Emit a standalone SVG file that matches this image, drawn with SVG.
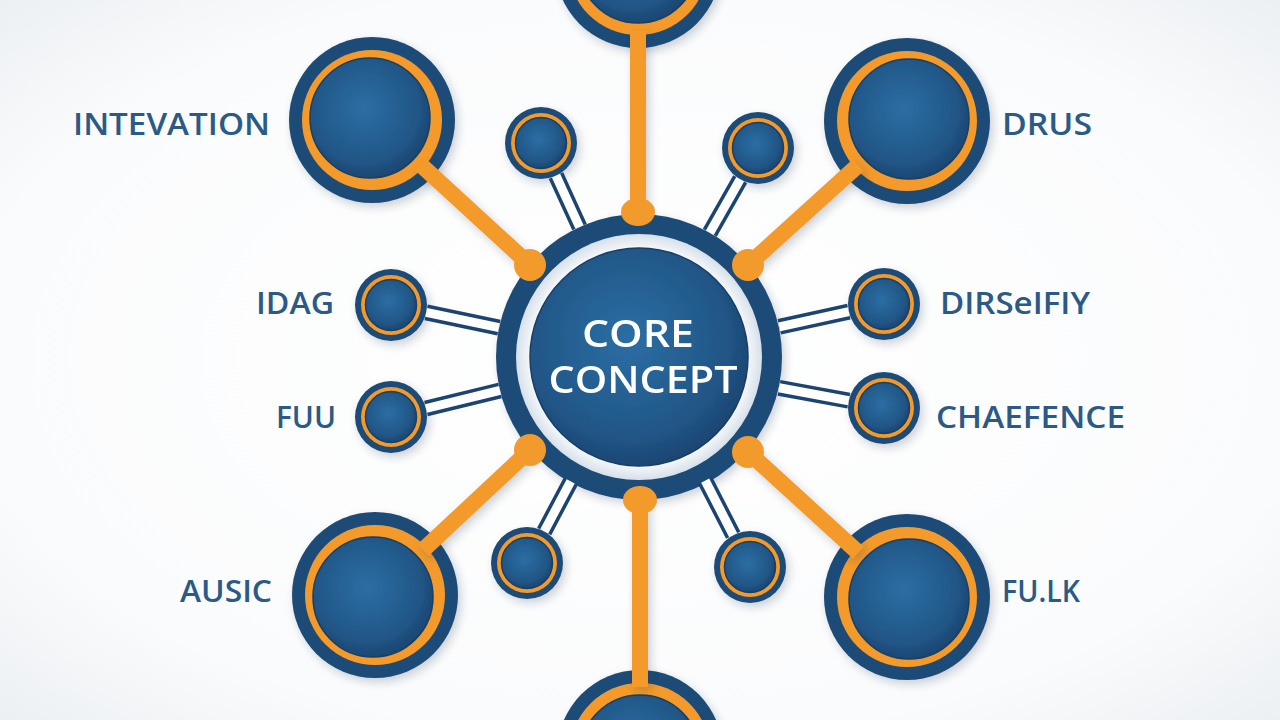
<svg xmlns="http://www.w3.org/2000/svg" width="1280" height="720" viewBox="0 0 1280 720">
<defs>
<radialGradient id="bg" cx="50%" cy="50%" r="75%">
<stop offset="0" stop-color="#ffffff"/><stop offset="0.7" stop-color="#fafbfc"/><stop offset="1" stop-color="#e9edf1"/>
</radialGradient>
<radialGradient id="blue" cx="45%" cy="42%" r="60%">
<stop offset="0" stop-color="#2b6ea4"/><stop offset="0.75" stop-color="#215686"/><stop offset="1" stop-color="#194470"/>
</radialGradient>
<radialGradient id="white" cx="50%" cy="50%" r="50%">
<stop offset="0.85" stop-color="#ffffff"/><stop offset="1" stop-color="#d6e0ea"/>
</radialGradient>
<filter id="sh" x="-30%" y="-30%" width="160%" height="160%">
<feDropShadow dx="3" dy="4" stdDeviation="4" flood-color="#1a3550" flood-opacity="0.22"/>
</filter>
<style>
.dark{fill:#1c4b77}
.org{fill:#f39a2c}
.inner{fill:url(#blue);stroke:#173f66;stroke-width:1.5}
.ol{stroke:#f39a2c;stroke-width:16;fill:none}
.dl{stroke:#1b4470;stroke-width:16;fill:none}
.wl{stroke:#ffffff;stroke-width:9;fill:none}
.lbl{font-family:"Open Sans","Liberation Sans",Arial,sans-serif;font-weight:600;font-size:30px;fill:#2a5a85}
.core{font-family:"Open Sans","Liberation Sans",Arial,sans-serif;font-weight:600;font-size:37px;fill:#ffffff}
</style>
</defs>
<rect width="1280" height="720" fill="url(#bg)"/>

<g id="core" filter="url(#sh)">
<circle cx="639" cy="357" r="143" class="dark"/>
<circle cx="639" cy="357" r="123" fill="url(#white)"/>
<circle cx="639" cy="357" r="109" class="inner"/>
<text x="638" y="347" text-anchor="middle" class="core" textLength="112" lengthAdjust="spacingAndGlyphs">CORE</text>
<text x="643" y="393" text-anchor="middle" class="core" textLength="189" lengthAdjust="spacingAndGlyphs">CONCEPT</text>
</g>

<g id="node-top" filter="url(#sh)">
<circle cx="638" cy="-35" r="83" class="dark"/>
<circle cx="638" cy="-35" r="70" class="org"/>
<circle cx="638" cy="-37" r="60" class="inner"/>
</g>
<g id="node-intevation">
<g filter="url(#sh)">
<circle cx="372" cy="120" r="83" class="dark"/>
<circle cx="372" cy="120" r="70" class="org"/>
<circle cx="370" cy="118" r="60" class="inner"/>
</g>
<text x="73" y="135" class="lbl" textLength="197" lengthAdjust="spacingAndGlyphs">INTEVATION</text>
</g>
<g id="node-drus">
<g filter="url(#sh)">
<circle cx="907" cy="121" r="83" class="dark"/>
<circle cx="907" cy="121" r="70" class="org"/>
<circle cx="909" cy="119" r="60" class="inner"/>
</g>
<text x="1002" y="135" class="lbl" textLength="90" lengthAdjust="spacingAndGlyphs">DRUS</text>
</g>
<g id="node-ausic">
<g filter="url(#sh)">
<circle cx="375" cy="595" r="83" class="dark"/>
<circle cx="375" cy="595" r="70" class="org"/>
<circle cx="373" cy="597" r="60" class="inner"/>
</g>
<text x="180" y="602" class="lbl" textLength="92" lengthAdjust="spacingAndGlyphs">AUSIC</text>
</g>
<g id="node-fulk">
<g filter="url(#sh)">
<circle cx="907" cy="597" r="83" class="dark"/>
<circle cx="907" cy="597" r="70" class="org"/>
<circle cx="909" cy="599" r="60" class="inner"/>
</g>
<text x="1002" y="602" class="lbl" textLength="78" lengthAdjust="spacingAndGlyphs">FU.LK</text>
</g>
<g id="node-bottom" filter="url(#sh)">
<circle cx="640" cy="753" r="83" class="dark"/>
<circle cx="640" cy="753" r="70" class="org"/>
<circle cx="640" cy="755" r="60" class="inner"/>
</g>

<g id="small-ul" filter="url(#sh)">
<circle cx="541" cy="143" r="36" class="dark"/><circle cx="541" cy="143" r="30" class="org"/><circle cx="541" cy="143" r="25.5" class="inner"/>
</g>
<g id="small-ur" filter="url(#sh)">
<circle cx="758" cy="148" r="36" class="dark"/><circle cx="758" cy="148" r="30" class="org"/><circle cx="758" cy="148" r="25.5" class="inner"/>
</g>
<g id="node-idag">
<g filter="url(#sh)"><circle cx="391" cy="305" r="36" class="dark"/><circle cx="391" cy="305" r="30" class="org"/><circle cx="391" cy="305" r="25.5" class="inner"/></g>
<text x="256" y="314" class="lbl" textLength="78" lengthAdjust="spacingAndGlyphs">IDAG</text>
</g>
<g id="node-fuu">
<g filter="url(#sh)"><circle cx="391" cy="417" r="36" class="dark"/><circle cx="391" cy="417" r="30" class="org"/><circle cx="391" cy="417" r="25.5" class="inner"/></g>
<text x="276" y="428" class="lbl" textLength="60" lengthAdjust="spacingAndGlyphs">FUU</text>
</g>
<g id="node-dirseifiy">
<g filter="url(#sh)"><circle cx="884" cy="304" r="36" class="dark"/><circle cx="884" cy="304" r="30" class="org"/><circle cx="884" cy="304" r="25.5" class="inner"/></g>
<text x="940" y="314" class="lbl" textLength="150" lengthAdjust="spacingAndGlyphs">DIRSeIFIY</text>
</g>
<g id="node-chaefence">
<g filter="url(#sh)"><circle cx="884" cy="408" r="36" class="dark"/><circle cx="884" cy="408" r="30" class="org"/><circle cx="884" cy="408" r="25.5" class="inner"/></g>
<text x="936" y="428" class="lbl" textLength="189" lengthAdjust="spacingAndGlyphs">CHAEFENCE</text>
</g>
<g id="small-bl" filter="url(#sh)">
<circle cx="527" cy="563" r="36" class="dark"/><circle cx="527" cy="563" r="30" class="org"/><circle cx="527" cy="563" r="25.5" class="inner"/>
</g>
<g id="small-br" filter="url(#sh)">
<circle cx="750" cy="567" r="36" class="dark"/><circle cx="750" cy="567" r="30" class="org"/><circle cx="750" cy="567" r="25.5" class="inner"/>
</g>

<g id="connectors">
<g filter="url(#sh)">
<line x1="638" y1="31" x2="638" y2="212" class="ol"/>
<line x1="420.6" y1="164.6" x2="530" y2="265" class="ol"/>
<line x1="858.1" y1="165.3" x2="748" y2="265" class="ol"/>
<line x1="423.2" y1="549.9" x2="530" y2="450" class="ol"/>
<line x1="858.2" y1="552.5" x2="748" y2="452" class="ol"/>
<line x1="640" y1="687" x2="640" y2="500" class="ol"/>
</g>
<g class="org">
<ellipse cx="638" cy="212" rx="17" ry="14"/>
<circle cx="530" cy="265" r="16"/>
<circle cx="748" cy="265" r="16"/>
<circle cx="530" cy="450" r="16"/>
<circle cx="748" cy="452" r="16"/>
<ellipse cx="640" cy="500" rx="17" ry="14"/>
</g>
<g class="dl">
<line x1="556" y1="175.7" x2="579.5" y2="227"/>
<line x1="740.2" y1="179.3" x2="709.8" y2="232.7"/>
<line x1="426.2" y1="312.4" x2="499" y2="327.7"/>
<line x1="426" y1="408.5" x2="500" y2="390.4"/>
<line x1="848.8" y1="311.6" x2="779.3" y2="326.8"/>
<line x1="848.8" y1="400.7" x2="779" y2="387.8"/>
<line x1="544.2" y1="531.4" x2="570.7" y2="481.4"/>
<line x1="733.2" y1="535.2" x2="705.2" y2="480.6"/>
</g>
<g class="wl">
<line x1="556" y1="175.7" x2="579.5" y2="227"/>
<line x1="740.2" y1="179.3" x2="709.8" y2="232.7"/>
<line x1="426.2" y1="312.4" x2="499" y2="327.7"/>
<line x1="426" y1="408.5" x2="500" y2="390.4"/>
<line x1="848.8" y1="311.6" x2="779.3" y2="326.8"/>
<line x1="848.8" y1="400.7" x2="779" y2="387.8"/>
<line x1="544.2" y1="531.4" x2="570.7" y2="481.4"/>
<line x1="733.2" y1="535.2" x2="705.2" y2="480.6"/>
</g>
</g>
</svg>
